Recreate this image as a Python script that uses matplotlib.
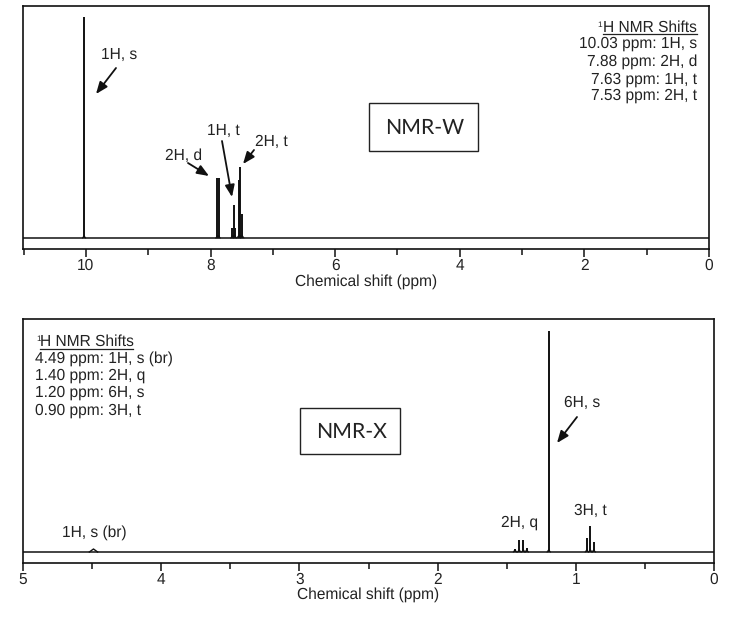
import matplotlib
matplotlib.use("Agg")
import matplotlib.pyplot as plt
from matplotlib.lines import Line2D
from matplotlib.patches import Rectangle, FancyArrowPatch
from matplotlib.ticker import MultipleLocator

plt.rcParams['font.family'] = ['Liberation Sans', 'DejaVu Sans']
plt.rcParams['text.hinting'] = 'none'
plt.rcParams['text.hinting_factor'] = 8
W, H = 756, 639

# Peak positions (ppm) and heights (baseline = 0, arbitrary units)
w_ppm = [10.03, 7.89, 7.87, 7.65, 7.63, 7.61, 7.55, 7.52, 7.49]
w_int = [221, 60, 60, 10, 33, 10, 58, 71, 24]
x_ppm = [1.44, 1.41, 1.38, 1.355, 1.196, 0.92, 0.895, 0.87]
x_int = [3, 12, 12, 4, 221, 14, 26, 10]
x_broad_ppm = 4.49
x_broad_int = 3
w_shifts = ["10.03 ppm: 1H, s", "7.88 ppm: 2H, d", "7.63 ppm: 1H, t", "7.53 ppm: 2H, t"]
x_shifts = ["4.49 ppm: 1H, s (br)", "1.40 ppm: 2H, q", "1.20 ppm: 6H, s", "0.90 ppm: 3H, t"]

fig = plt.figure(figsize=(W / 100, H / 100), dpi=100, facecolor='white')

def fx(x): return x / W
def fy(y): return 1 - y / H

def make_axes(l, t, r, b):
    return fig.add_axes([fx(l), fy(b), (r - l) / W, (b - t) / H])

def panel(ax, ppm, inten, xlim, major, minor, base_px, top_px, bottom_px, flare):
    ax.set_xlim(*xlim)
    ax.set_ylim(-(bottom_px - base_px), base_px - top_px)
    ax.axhline(0, color='#111111', lw=1.1)
    ax.vlines(ppm, 0, inten, color='#111111', lw=1.4)
    for p in ppm:
        ax.plot([p - flare, p, p + flare], [0, 2.5, 0], color='#111111', lw=0.7)
    ax.set_yticks([])
    ax.xaxis.set_major_locator(MultipleLocator(major))
    ax.xaxis.set_minor_locator(MultipleLocator(minor))
    ax.tick_params(axis='x', which='major', length=5.8, width=1.1, labelsize=11.2, pad=1.0,
                   color='#111111', labelcolor='#222222')
    ax.tick_params(axis='x', which='minor', length=4, width=1.1, color='#111111')
    for s in ax.spines.values():
        s.set_linewidth(1.2)
        s.set_color('#111111')

a1 = make_axes(23, 6, 709, 249)
panel(a1, w_ppm, w_int, (11.01, 0), 2, 1, 238, 6, 249, 0.025)
a2 = make_axes(23, 319, 714, 563)
panel(a2, x_ppm, x_int, (5, 0), 1, 0.5, 552, 319, 563, 0.012)
a2.plot([x_broad_ppm - 0.03, x_broad_ppm, x_broad_ppm + 0.03], [0, x_broad_int, 0], color='#111111', lw=1.0)

def t(x, y, s, ha='center', size=11.2, **kw):
    fig.text(fx(x), fy(y), s, ha=ha, va='center', fontsize=size, color=kw.pop('color', '#222222'), **kw)

def arrow(x0, y0, x1, y1):
    fig.add_artist(FancyArrowPatch(
        (fx(x0), fy(y0)), (fx(x1), fy(y1)), transform=fig.transFigure,
        arrowstyle='-|>,head_length=0.55,head_width=0.22', mutation_scale=13, lw=1.3, color='#111111',
        shrinkA=0, shrinkB=0))

t(366, 282, "Chemical shift (ppm)")
t(368, 595, "Chemical shift (ppm)")

# Header + shift lists
t(697, 28, "H NMR Shifts", ha='right')
t(602, 24.5, "1", ha='right', size=6)
fig.add_artist(Line2D([fx(603), fx(697)], [fy(34), fy(34)], color='#222222', lw=0.9))
for y, s in zip([44, 62, 80, 96], w_shifts):
    t(697, y, s, ha='right')

t(40, 342, "H NMR Shifts", ha='left')
t(36, 338.5, "1", ha='left', size=6)
fig.add_artist(Line2D([fx(40), fx(133)], [fy(348.5), fy(348.5)], color='#222222', lw=0.9))
for y, s in zip([359, 376, 393, 411], x_shifts):
    t(35, y, s, ha='left')

# Peak labels
t(119, 55, "1H, s")
t(184, 156, "2H, d")
t(223, 131, "1H, t")
t(271, 142, "2H, t")
t(582, 403, "6H, s")
t(94, 533, "1H, s (br)")
t(520, 523, "2H, q")
t(590, 511, "3H, t")

arrow(116, 68, 96, 94)
arrow(188, 163, 209, 176)
arrow(222, 141, 232, 197)
arrow(254, 150, 243, 164)
arrow(577, 417, 557, 443)

# Boxed sample names
for (l, tp, r, b, s) in [(369, 103, 478, 151, "NMR-W"), (300, 408, 400, 454, "NMR-X")]:
    fig.add_artist(Rectangle((fx(l), fy(b)), (r - l) / W, (b - tp) / H, transform=fig.transFigure,
                             fc='white', ec='#222222', lw=1.0))
    fig.text(fx((l + r) / 2 + 1.5), fy((tp + b) / 2 + 1), s, ha='center', va='center', fontsize=15.3,
             family=['Lato', 'DejaVu Sans'], color='#222222')

fig.savefig("out.png", dpi=100, facecolor='white')
